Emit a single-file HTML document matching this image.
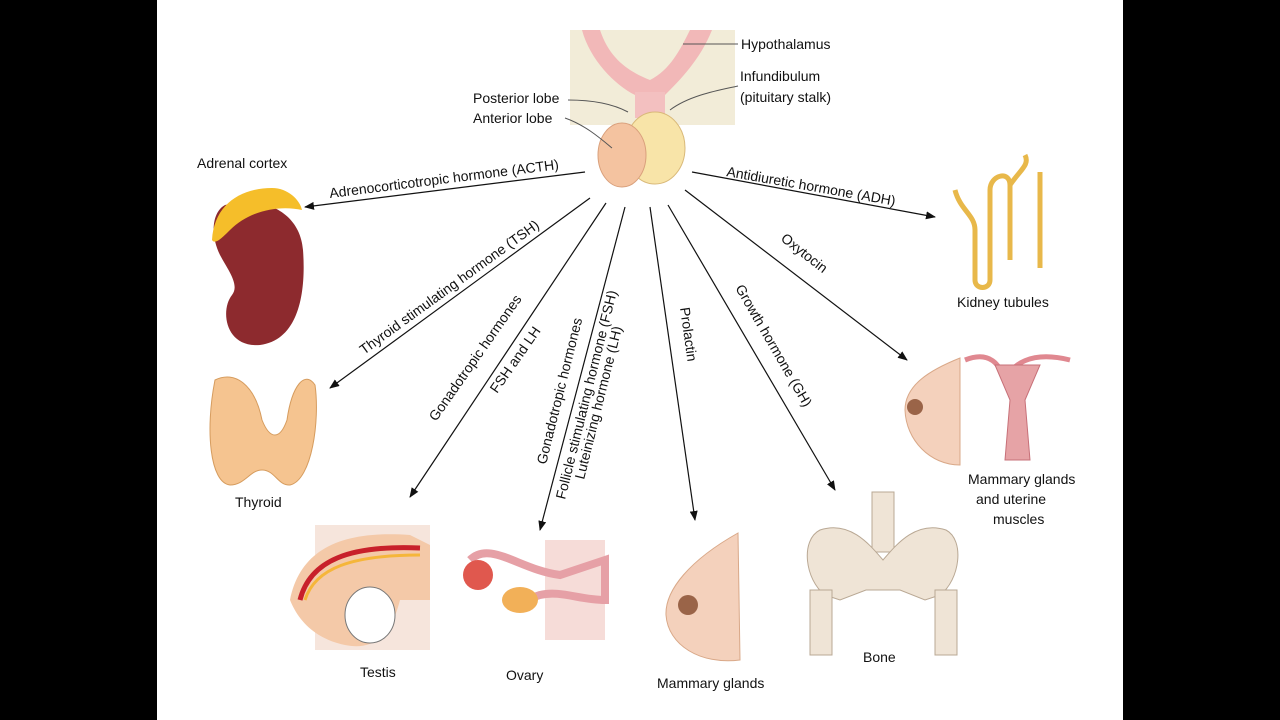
<!DOCTYPE html>
<html><head><meta charset="utf-8"><style>
html,body{margin:0;padding:0;background:#fff}
svg{display:block}
text{font-family:"Liberation Sans",sans-serif;font-size:14px;fill:#111}
</style></head><body>
<svg width="1280" height="720" viewBox="0 0 1280 720" xmlns="http://www.w3.org/2000/svg">
<defs><marker id="a" markerWidth="10" markerHeight="8" refX="9" refY="4" orient="auto" markerUnits="userSpaceOnUse"><path d="M0,0 L10,4 L0,8 z" fill="#111"/></marker></defs>
<rect x="0" y="0" width="157" height="720" fill="#000"/>
<rect x="1123" y="0" width="157" height="720" fill="#000"/>
<rect x="570" y="30" width="165" height="95" fill="#f2ecd8"/>
<path d="M582,30 L600,30 C610,60 630,72 650,80 C670,70 680,50 690,30 L712,30 C700,60 680,80 665,95 L665,115 L635,115 L635,95 C615,85 590,60 582,30z" fill="#f2b8b8"/>
<path d="M605,30 L685,30 C678,50 668,65 650,72 C632,65 612,50 605,30z" fill="#f2ecd8"/>
<path d="M635,92 L665,92 L665,118 L635,118z" fill="#f3c0c0"/>
<ellipse cx="655" cy="148" rx="30" ry="36" fill="#f8e4a8" stroke="#d9b979" stroke-width="1"/>
<ellipse cx="622" cy="155" rx="24" ry="32" fill="#f4c3a0" stroke="#d9a07c" stroke-width="1"/>
<line x1="683" y1="44" x2="738" y2="44" stroke="#555"/>
<path d="M670,110 C690,95 720,90 738,86" stroke="#555" fill="none"/>
<path d="M568,100 C595,100 615,105 628,112" stroke="#555" fill="none"/>
<path d="M565,118 C585,125 600,138 612,148" stroke="#555" fill="none"/>
<text x="741" y="49">Hypothalamus</text>
<text x="740" y="81">Infundibulum</text>
<text x="740" y="102">(pituitary stalk)</text>
<text x="473" y="103">Posterior lobe</text>
<text x="473" y="123">Anterior lobe</text>
<g stroke="#111" stroke-width="1.2" fill="none" marker-end="url(#a)">
<line x1="585" y1="172" x2="305" y2="207"/>
<line x1="590" y1="198" x2="330" y2="388"/>
<line x1="606" y1="203" x2="410" y2="497"/>
<line x1="625" y1="207" x2="540" y2="530"/>
<line x1="650" y1="207" x2="695" y2="520"/>
<line x1="668" y1="205" x2="835" y2="490"/>
<line x1="685" y1="190" x2="907" y2="360"/>
<line x1="692" y1="172" x2="935" y2="217"/>
</g>
<text transform="translate(330,198) rotate(-7.2)">Adrenocorticotropic hormone (ACTH)</text>
<text transform="translate(364,355) rotate(-36)">Thyroid stimulating hormone (TSH)</text>
<text transform="translate(436,422) rotate(-55)">Gonadotropic hormones</text>
<text transform="translate(497,394) rotate(-55)">FSH and LH</text>
<text transform="translate(546,465) rotate(-76)">Gonadotropic hormones</text>
<text transform="translate(565,500) rotate(-76)">Follicle stimulating hormone (FSH)</text>
<text transform="translate(584,480) rotate(-76)">Luteinizing hormone (LH)</text>
<text transform="translate(680,308) rotate(82)">Prolactin</text>
<text transform="translate(735,288) rotate(60)">Growth hormone (GH)</text>
<text transform="translate(780,240) rotate(38)">Oxytocin</text>
<text transform="translate(726,176) rotate(10)">Antidiuretic hormone (ADH)</text>
<path d="M225,205 C260,195 300,210 303,250 C306,290 300,340 260,345 C225,348 220,310 232,295 C240,285 228,270 220,255 C210,235 212,212 225,205z" fill="#8d2a2e"/>
<path d="M212,240 C214,205 240,188 272,188 C288,188 300,200 302,210 C280,205 250,210 230,230 C222,238 215,245 212,240z" fill="#f5be2a"/>
<text x="197" y="168">Adrenal cortex</text>
<path d="M215,380 C235,370 255,385 262,420 C270,440 280,440 287,420 C292,385 305,370 315,385 C320,420 312,480 290,485 C278,486 275,470 262,470 C250,470 245,485 230,485 C210,483 205,430 215,380z" fill="#f5c490" stroke="#d69c5e"/>
<text x="235" y="507">Thyroid</text>
<rect x="315" y="525" width="115" height="125" fill="#f6e5dc"/>
<path d="M290,600 C300,550 340,530 410,535 L430,545 L430,600 L400,600 C390,640 370,650 345,645 C320,640 300,625 290,600z" fill="#f4c9a8"/>
<path d="M300,600 C310,560 350,545 420,548" stroke="#c8202a" stroke-width="5" fill="none"/>
<path d="M305,600 C315,568 352,555 420,555" stroke="#f5b63a" stroke-width="3" fill="none"/>
<ellipse cx="370" cy="615" rx="25" ry="28" fill="#fff" stroke="#777"/>
<text x="360" y="677">Testis</text>
<rect x="545" y="540" width="60" height="100" fill="#f6dcd8"/>
<path d="M470,560 C490,540 520,570 560,575 L605,560 L605,600 C580,600 560,590 540,595 L525,600" stroke="#e6a0a6" stroke-width="8" fill="none"/>
<circle cx="478" cy="575" r="15" fill="#e0584e"/>
<ellipse cx="520" cy="600" rx="18" ry="13" fill="#f2b058"/>
<text x="506" y="680">Ovary</text>
<path d="M738,533 C690,560 665,590 666,615 C668,645 700,665 740,660z" fill="#f4d1bc" stroke="#d9a888"/>
<circle cx="688" cy="605" r="10" fill="#9a6448"/>
<text x="657" y="688">Mammary glands</text>
<g fill="#efe4d6" stroke="#b9a894">
<rect x="872" y="492" width="22" height="60"/>
<path d="M820,530 C850,520 870,545 883,560 C896,545 916,520 946,530 C965,540 960,580 940,595 L925,600 L900,590 L866,590 L840,600 L825,595 C805,580 800,540 820,530z"/>
<rect x="810" y="590" width="22" height="65"/>
<rect x="935" y="590" width="22" height="65"/>
</g>
<text x="863" y="662">Bone</text>
<path d="M960,358 C930,370 905,385 905,410 C906,440 930,465 960,465z" fill="#f4d1bc" stroke="#d9a888"/>
<circle cx="915" cy="407" r="8" fill="#9a6448"/>
<path d="M965,360 C990,350 1000,365 1005,380 C1012,365 1030,350 1070,360" stroke="#e08890" stroke-width="5" fill="none"/>
<path d="M995,365 L1040,365 L1025,400 L1030,460 L1005,460 L1010,400z" fill="#e6a3a6" stroke="#c77078"/>
<text x="968" y="484">Mammary glands</text>
<text x="976" y="504">and uterine</text>
<text x="993" y="524">muscles</text>
<g stroke="#e8b84a" stroke-width="5" fill="none">
<path d="M955,190 C960,210 975,215 975,230 L975,280 C975,290 990,290 990,280 L990,190 C990,175 1010,170 1010,185 L1010,260 M1010,185 C1020,170 1030,165 1025,155"/>
<line x1="1040" y1="172" x2="1040" y2="268"/>
</g>
<text x="957" y="307">Kidney tubules</text>
</svg>
</body></html>
